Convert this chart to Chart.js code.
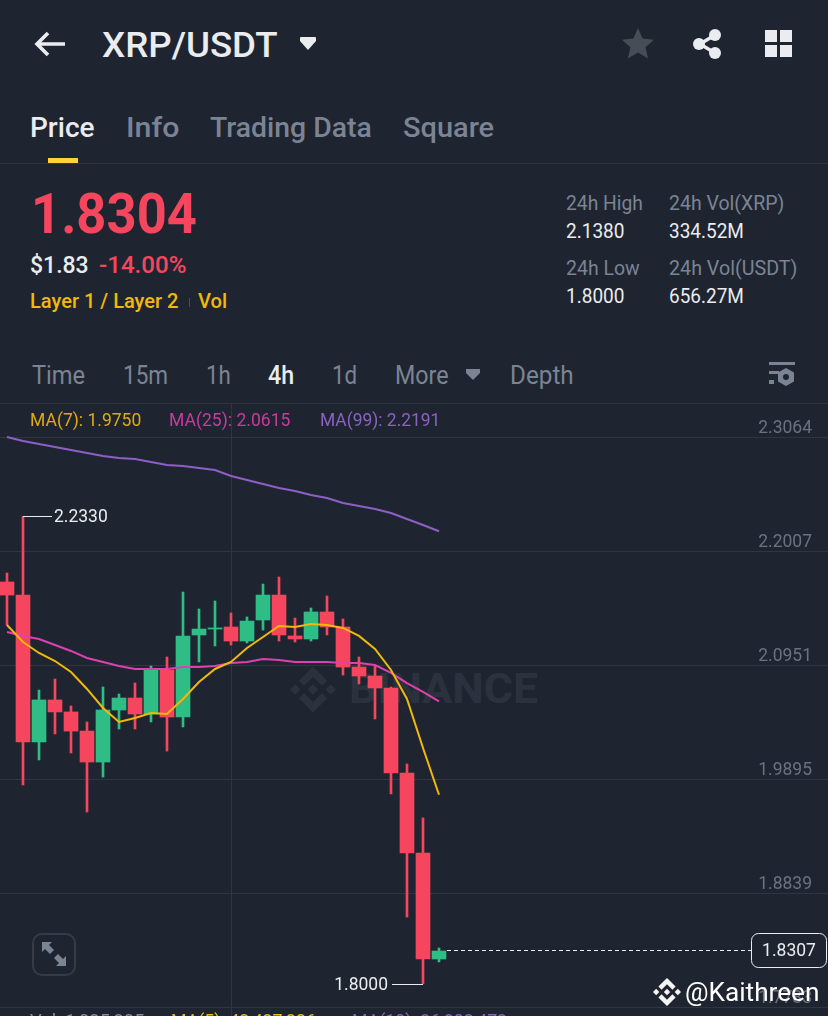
<!DOCTYPE html>
<html>
<head>
<meta charset="utf-8">
<title>XRP/USDT</title>
<script src="https://cdn.jsdelivr.net/npm/chart.js@4"></script>
<style>
html { background: #1f2530; }
body { margin: 0; padding: 0; position: relative; width: 828px; height: 1016px; overflow: hidden; font-family: Roboto, sans-serif; }
#canvas { position: absolute; left: -1px; top: 404px; z-index: 1; }
.t { position: absolute; white-space: nowrap; transform-origin: 0 50%; line-height: 1; z-index: 2; }
.rule { position: absolute; left: 0; width: 828px; height: 1px; background: #30363f; }
svg { position: absolute; z-index: 2; }
</style>
</head>
<body>
<canvas id="canvas" width="832" height="612"></canvas>
<script>
var opens = [2.1721, 2.1600, 2.0239, 2.0628, 2.0517, 2.0340, 2.0053, 2.0535, 2.0646, 2.0498, 2.0906, 2.0470, 2.1230, 2.1285, 2.1304, 2.1174, 2.1369, 2.1600, 2.1221, 2.1193, 2.1443, 2.1304, 2.0933, 2.0850, 2.0739, 1.9951, 1.9210, 1.8228];
var closes = [2.1600, 2.0239, 2.0628, 2.0517, 2.0340, 2.0053, 2.0535, 2.0646, 2.0498, 2.0906, 2.0470, 2.1221, 2.1285, 2.1295, 2.1174, 2.1359, 2.1600, 2.1230, 2.1193, 2.1443, 2.1304, 2.0933, 2.0850, 2.0739, 1.9951, 1.9210, 1.8228, 1.8302];
var highs = [2.1804, 2.2330, 2.0720, 2.0822, 2.0572, 2.0424, 2.0748, 2.0683, 2.0785, 2.0943, 2.1026, 2.1628, 2.1471, 2.1545, 2.1434, 2.1397, 2.1702, 2.1767, 2.1387, 2.1480, 2.1591, 2.1378, 2.1026, 2.0943, 2.0748, 2.0035, 1.9535, 1.8330];
var lows = [2.1322, 1.9840, 2.0072, 2.0313, 2.0137, 1.9590, 1.9914, 2.0359, 2.0359, 2.0424, 2.0155, 2.0378, 2.0980, 2.1128, 2.1137, 2.1156, 2.1276, 2.1174, 2.1165, 2.1174, 2.1230, 2.0859, 2.0776, 2.0452, 1.9757, 1.8617, 1.8000, 1.8201];
var ma7 = [2.1322, 2.1165, 2.1063, 2.0989, 2.0887, 2.0730, 2.0554, 2.0424, 2.0461, 2.0507, 2.0498, 2.0637, 2.0794, 2.0915, 2.0980, 2.1109, 2.1211, 2.1313, 2.1304, 2.1332, 2.1322, 2.1295, 2.1221, 2.1100, 2.0906, 2.0637, 2.0183, 1.9750];
var ma25 = [2.1258, 2.1221, 2.1193, 2.1137, 2.1082, 2.1017, 2.0980, 2.0943, 2.0915, 2.0915, 2.0915, 2.0933, 2.0933, 2.0943, 2.0970, 2.0980, 2.1007, 2.0998, 2.0980, 2.0980, 2.0980, 2.0970, 2.0970, 2.0952, 2.0878, 2.0785, 2.0702, 2.0615];
var ma99 = [2.3064, 2.3027, 2.2999, 2.2971, 2.2944, 2.2916, 2.2888, 2.2869, 2.2860, 2.2832, 2.2805, 2.2795, 2.2777, 2.2758, 2.2703, 2.2666, 2.2629, 2.2592, 2.2564, 2.2527, 2.2499, 2.2453, 2.2425, 2.2397, 2.2360, 2.2304, 2.2249, 2.2191];
var priceTicks = [2.3064, 2.2007, 2.0951, 1.9895, 1.8839, 1.7783];

var highPrice = 2.2330, highIndex = 1;
var lowPrice = 1.8000, lowIndex = 26;
var lastPrice = 1.8307, lastIndex = 27;

var RED = '#f6465d', GREEN = '#2ebd85';
var LOGO = 'M38.73 53.2l24.59-24.58 24.6 24.6 14.3-14.31L63.32 0 24.42 38.9z M0 63.31l14.3-14.31 14.31 14.31-14.31 14.3z M38.73 73.41l24.59 24.59 24.6-24.6 14.31 14.29-38.9 38.91-38.91-38.88z M98 63.31l14.3-14.31 14.31 14.3-14.31 14.32z M77.83 63.3L63.32 48.78 52.59 59.51l-1.24 1.23-2.54 2.54 14.51 14.5 14.51-14.47z';

// empty slots to the right of the last candle
var slots = opens.map(function(v, i) { return 'c' + i; });
while (slots.length < 52) slots.push('');

var candleColors = opens.map(function(o, i) { return closes[i] >= o ? GREEN : RED; });

function maLine(data, color) {
    return { type: 'line', data: data, borderColor: color, borderWidth: 2, pointRadius: 0, tension: 0, fill: false, order: 0 };
}

var markers = {
    id: 'markers',
    afterDatasetsDraw: function(chart) {
        var c = chart.ctx, x = chart.scales.x, y = chart.scales.y;
        c.save();
        c.font = '17.5px Roboto';
        c.textBaseline = 'middle';
        c.strokeStyle = c.fillStyle = '#eaecef';
        c.lineWidth = 1;

        var hx = x.getPixelForValue(highIndex), hy = Math.round(y.getPixelForValue(highPrice)) + 0.5;
        c.beginPath(); c.moveTo(hx, hy); c.lineTo(hx + 29, hy); c.stroke();
        c.textAlign = 'left';
        c.fillText(highPrice.toFixed(4), hx + 31, hy + 1);

        var lx = x.getPixelForValue(lowIndex), ly = Math.round(y.getPixelForValue(lowPrice)) + 0.5;
        c.beginPath(); c.moveTo(lx, ly); c.lineTo(lx - 31, ly); c.stroke();
        c.textAlign = 'right';
        c.fillText(lowPrice.toFixed(4), lx - 35, ly + 1);

        var px = x.getPixelForValue(lastIndex) + 8, py = Math.round(y.getPixelForValue(lastPrice)) + 0.5;
        c.setLineDash([4, 3]);
        c.beginPath(); c.moveTo(px, py); c.lineTo(752, py); c.stroke();
        c.setLineDash([]);
        c.fillStyle = '#1f2530';
        c.beginPath(); c.roundRect(752.5, py - 17, 75, 34, 7); c.fill(); c.stroke();
        c.fillStyle = '#eaecef';
        c.textAlign = 'center';
        c.fillText(lastPrice.toFixed(4), 790, py + 1);
        c.restore();
    }
};

var chart = new Chart(document.getElementById('canvas').getContext('2d'), {
    type: 'bar',
    data: {
        labels: slots,
        datasets: [
            maLine(ma7, '#f0b90b'),
            maLine(ma25, '#df40b0'),
            maLine(ma99, '#8e5fc6'),
            {
                data: opens.map(function(o, i) { return [o, closes[i]]; }),
                backgroundColor: candleColors,
                barThickness: 14, grouped: false, order: 1
            },
            {
                data: lows.map(function(l, i) { return [l, highs[i]]; }),
                backgroundColor: candleColors,
                barThickness: 2, grouped: false, order: 2
            }
        ]
    },
    options: {
        responsive: false,
        animation: false,
        layout: { padding: 0 },
        plugins: { legend: { display: false }, tooltip: { enabled: false } },
        scales: {
            x: {
                offset: true,
                border: { display: false },
                ticks: { display: false },
                grid: {
                    offset: false, drawTicks: false,
                    color: function(ctx) { return ctx.index === 14 ? '#30363f' : 'transparent'; }
                }
            },
            y: {
                position: 'right',
                min: 1.7700,
                max: 2.3370,
                border: { display: false },
                afterBuildTicks: function(axis) {
                    axis.ticks = priceTicks.map(function(v) { return { value: v }; });
                },
                afterFit: function(axis) { axis.width = 0; },
                ticks: {
                    mirror: true,
                    padding: -19,
                    labelOffset: -8,
                    color: '#6a7280',
                    font: { family: 'Roboto', size: 17.5 },
                    callback: function(v) { return v.toFixed(4); }
                },
                grid: { color: '#30363f', drawTicks: false }
            }
        }
    },
    plugins: [markers]
});

// page chrome around the chart
function put(text, x, cy, w, size, color, weight) {
    var s = document.createElement('span');
    s.className = 't';
    s.textContent = text;
    s.style.cssText = 'left:' + x + 'px;font-size:' + size + 'px;color:' + color + ';font-weight:' + (weight || 400);
    document.body.appendChild(s);
    s.style.top = (cy - s.offsetHeight / 2) + 'px';
    if (w) s.style.transform = 'scaleX(' + (w / s.offsetWidth) + ')';
    return s;
}
function svg(x, y, w, h, view, inner) {
    document.body.insertAdjacentHTML('beforeend', '<svg style="left:' + x + 'px;top:' + y + 'px" width="' + w + '" height="' + h + '" viewBox="' + view + '">' + inner + '</svg>');
    return document.body.lastElementChild;
}
function rule(y) {
    var d = document.createElement('div');
    d.className = 'rule';
    d.style.top = y + 'px';
    document.body.appendChild(d);
}

var WHITE = '#eaecef', GRAY = '#7b8494', YELLOW = '#f0b90b';

svg(33, 30, 34, 28, '0 0 34 28', '<path d="M32 14H4M15 3L4 14l11 11" fill="none" stroke="' + WHITE + '" stroke-width="3.6"/>');
put('XRP/USDT', 102, 45, 176, 35, WHITE, 500);
svg(300, 37, 16, 13, '0 0 16 13', '<path d="M0 1a1 1 0 0 1 1-1h14a1 1 0 0 1 1 1v3L8 13 0 4z" fill="' + WHITE + '"/>');
svg(622, 28, 32, 32, '1 1 22 22', '<path d="M12 1l3.2 7.3 7.8.7-5.9 5.2 1.8 7.8-6.9-4.1L5 22l1.800-7.800L1 9l7.800-.7z" fill="#474d57"/>');
svg(692, 28, 32, 32, '0 0 32 32', '<path d="M23 7L8 16l15 9" fill="none" stroke="' + WHITE + '" stroke-width="3.4"/><circle cx="23" cy="7" r="6" fill="' + WHITE + '"/><circle cx="7" cy="16" r="6" fill="' + WHITE + '"/><circle cx="23" cy="25" r="6" fill="' + WHITE + '"/>');
svg(765, 30, 28, 28, '0 0 28 28', '<path d="M0 0h12v12H0zM15 0h12v12H15zM0 15h12v12H0zM15 15h12v12H15z" fill="' + WHITE + '"/>');

put('Price', 30, 128, 65, 28, WHITE, 500);
put('Info', 126, 128, 53, 28, GRAY, 500);
put('Trading Data', 210, 128, 162, 28, GRAY, 500);
put('Square', 403, 128, 91, 28, GRAY, 500);
document.body.insertAdjacentHTML('beforeend', '<div style="position:absolute;left:48px;top:158px;width:30px;height:5px;background:#fcd535"></div>');
rule(163);

put('1.8304', 31, 214, 166, 56, '#f6465d', 700);
put('$1.83', 30, 265, 59, 23, WHITE, 500);
put('-14.00%', 99, 265, 87, 23, '#f6465d', 500);
put('Layer 1 / Layer 2', 30, 302, 149, 19.5, YELLOW, 500);
document.body.insertAdjacentHTML('beforeend', '<div style="position:absolute;left:189px;top:298px;width:1px;height:9px;background:#474d57"></div>');
put('Vol', 198, 302, 29, 19.5, YELLOW, 500);

put('24h High', 566, 203, 77, 20, GRAY);
put('2.1380', 566, 231, 58, 20, WHITE);
put('24h Vol(XRP)', 669, 203, 115, 20, GRAY);
put('334.52M', 669, 231, 75, 20, WHITE);
put('24h Low', 566, 268, 74, 20, GRAY);
put('1.8000', 566, 296, 58, 20, WHITE);
put('24h Vol(USDT)', 669, 268, 128, 20, GRAY);
put('656.27M', 669, 296, 75, 20, WHITE);

put('Time', 32, 375, 53, 25, GRAY);
put('15m', 123, 375, 45, 25, GRAY);
put('1h', 206, 375, 25, 25, GRAY);
put('4h', 268, 375, 26, 25, WHITE, 500);
put('1d', 332, 375, 25, 25, GRAY);
put('More', 395, 375, 54, 25, GRAY);
svg(466, 369, 14, 11, '0 0 14 11', '<path d="M0 0h14v4L7 11 0 4z" fill="' + GRAY + '"/>');
put('Depth', 510, 375, 64, 25, GRAY);
svg(769, 362, 26, 25, '0 0 26 25', '<path d="M0 0h26v3H0zM0 9h10v3H0zM0 18h5v4H0z" fill="' + GRAY + '"/><path d="M17 6l8 4.500v9L17 24l-8-4.500v-9z" fill="' + GRAY + '"/><circle cx="17" cy="15" r="3" fill="#1f2530"/>');
rule(403);

put('MA(7): 1.9750', 30, 420, 111, 18, '#e0aa12');
put('MA(25): 2.0615', 169, 420, 121, 18, '#c93aa0');
put('MA(99): 2.2191', 320, 420, 120, 18, '#8a62c0');

// faint watermark behind the candles
put('BINANCE', 349, 689, 189, 42, '#2c323d', 700).style.zIndex = 0;
svg(290, 666, 46, 47, '0 0 126.61 126.61', '<path d="' + LOGO + '" fill="#2c323d"/>').style.zIndex = 0;

svg(32, 933, 44, 43, '0 0 44 43', '<rect x="1" y="1" width="42" height="41" rx="9" fill="none" stroke="#363c46" stroke-width="2"/><path d="M10 9h10l-3 3 5 5-4 4-5-5-3 3zM34 33H24l3-3-5-5 4-4 5 5 3-3z" fill="#7b8494"/>');

put('Vol: 1,025,205', 30, 1021, 114, 18, '#848e9c');
put('MA(5): 42,437,326', 171, 1021, 145, 18, YELLOW);
put('MA(10): 36,802,473', 352, 1021, 155, 18, '#8a62c0');

svg(653, 978, 28, 28, '0 0 126.61 126.61', '<path d="' + LOGO + '" fill="#f4f4f4"/>');
put('@Kaithreen', 685, 992, 134, 26, '#ffffff', 400);
</script>
</body>
</html>
